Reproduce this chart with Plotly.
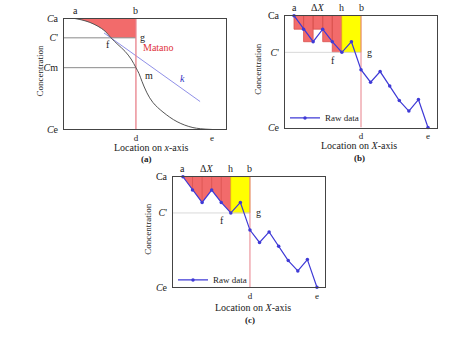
import plotly.graph_objects as go

# ---------------- data ----------------
# Panel (a): continuous concentration profile (normalized: Ca = 1, Ce = 0)
a_pos = [0.68, 1.11, 1.60, 2.10, 2.53, 2.90, 3.33, 3.77, 4.14, 4.44, 4.63, 4.81,
         5.12, 5.49, 6.11, 6.98, 7.96, 9.14]
a_conc = [1.0, 0.987, 0.965, 0.930, 0.887, 0.826, 0.765, 0.704, 0.635, 0.557, 0.504,
          0.435, 0.330, 0.243, 0.157, 0.070, 0.017, 0.0]
a_matano = 4.44
a_cprime = 0.826
a_cm = 0.557
a_f_index = 5          # point f on the curve
a_tan_x = [2.47, 8.40]  # line k
a_tan_y = [0.870, 0.252]
a_xrange = [0, 10]

# Panels (b) and (c): raw data
raw_x = list(range(15))
raw_c = [1.0, 0.879, 0.767, 0.879, 0.767, 0.672, 0.767, 0.517, 0.405, 0.50,
         0.371, 0.241, 0.147, 0.25, 0.0]
h_idx = 5   # f / h
b_idx = 7   # Matano (b / d)

y_ticks_a = [0, a_cm, a_cprime, 1]
y_text_a = ["<i>C</i>e", "<i>C</i>m", "<i>C</i>'", "<i>C</i>a"]

# ---------------- style ----------------
FONT = "Liberation Serif"
RED = "#F26B6B"
RED_EDGE = "#D9534F"
YEL = "#FFFF00"
LINE = "#3F3AD6"
MAT = "#E8808A"
W, H = 474, 339

fig = go.Figure()

# ================= panel (a) =================
fpos = a_pos[:a_f_index + 1]
fconc = a_conc[:a_f_index + 1]
fig.add_trace(go.Scatter(
    x=fpos + [a_matano, a_matano, fpos[0]],
    y=fconc + [a_cprime, 1, 1],
    fill="toself", fillcolor=RED, mode="none", line_shape="linear",
    showlegend=False, xaxis="x", yaxis="y", hoverinfo="skip"))
# C' and Cm guide lines
for lev in (a_cprime, a_cm):
    fig.add_trace(go.Scatter(x=[a_xrange[0], a_matano], y=[lev, lev], mode="lines",
                             line=dict(color="#8a8a8a", width=1), showlegend=False,
                             xaxis="x", yaxis="y", hoverinfo="skip"))
# tangent k
fig.add_trace(go.Scatter(x=a_tan_x, y=a_tan_y, mode="lines",
                         line=dict(color="#9090E8", width=1), showlegend=False,
                         xaxis="x", yaxis="y", hoverinfo="skip"))
# Matano line
fig.add_trace(go.Scatter(x=[a_matano, a_matano], y=[0, 1], mode="lines",
                         line=dict(color=MAT, width=1.3), showlegend=False,
                         xaxis="x", yaxis="y", hoverinfo="skip", cliponaxis=False))
# profile curve
fig.add_trace(go.Scatter(x=a_pos, y=a_conc, mode="lines", line_shape="spline",
                         line=dict(color="#555555", width=1), showlegend=False,
                         xaxis="x", yaxis="y", hoverinfo="skip", cliponaxis=False))


# ================= panels (b) and (c) =================
def raw_panel(xa, ya, stepped, legend_name):
    # red area
    if stepped:
        xs, ys = [], []
        for i in range(h_idx):
            lo = raw_c[i + 1]
            xs += [raw_x[i], raw_x[i + 1], raw_x[i + 1], raw_x[i], raw_x[i], None]
            ys += [lo, lo, 1, 1, lo, None]
        fig.add_trace(go.Scatter(x=xs, y=ys, fill="toself", fillcolor=RED, mode="lines",
                                 line=dict(color=RED_EDGE, width=0.8), showlegend=False,
                                 xaxis=xa, yaxis=ya, hoverinfo="skip"))
    else:
        xs = raw_x[:h_idx + 1] + [raw_x[h_idx], raw_x[0]]
        ys = raw_c[:h_idx + 1] + [1, 1]
        fig.add_trace(go.Scatter(x=xs, y=ys, fill="toself", fillcolor=RED, mode="none",
                                 showlegend=False, xaxis=xa, yaxis=ya, hoverinfo="skip"))
        vx, vy = [], []
        for i in range(1, h_idx + 1):
            vx += [raw_x[i], raw_x[i], None]
            vy += [raw_c[i], 1, None]
        fig.add_trace(go.Scatter(x=vx, y=vy, mode="lines",
                                 line=dict(color=RED_EDGE, width=0.8), showlegend=False,
                                 xaxis=xa, yaxis=ya, hoverinfo="skip"))
    # yellow rectangle h..b, C'..Ca
    cp = raw_c[h_idx]
    fig.add_trace(go.Scatter(
        x=[raw_x[h_idx], raw_x[b_idx], raw_x[b_idx], raw_x[h_idx], raw_x[h_idx]],
        y=[cp, cp, 1, 1, cp], fill="toself", fillcolor=YEL, mode="lines",
        line=dict(color="#E6C200", width=0.6), showlegend=False,
        xaxis=xa, yaxis=ya, hoverinfo="skip"))
    # C' guide line
    fig.add_trace(go.Scatter(x=[-2, raw_x[b_idx]], y=[cp, cp], mode="lines",
                             line=dict(color="#d9d9d9", width=1), showlegend=False,
                             xaxis=xa, yaxis=ya, hoverinfo="skip"))
    # Matano line
    fig.add_trace(go.Scatter(x=[raw_x[b_idx]] * 2, y=[0, 1], mode="lines",
                             line=dict(color=MAT, width=1), showlegend=False,
                             xaxis=xa, yaxis=ya, hoverinfo="skip", cliponaxis=False))
    # raw data
    fig.add_trace(go.Scatter(x=raw_x, y=raw_c, mode="lines+markers", name="Raw data",
                             line=dict(color=LINE, width=1.2),
                             marker=dict(color=LINE, size=3.5), legend=legend_name,
                             xaxis=xa, yaxis=ya, cliponaxis=False, hoverinfo="skip"))


raw_panel("x2", "y2", True, "legend")
raw_panel("x3", "y3", False, "legend2")

# ---------------- axes ----------------
def xax(domain, rng, tv, tt):
    return dict(domain=domain, range=rng, showgrid=False, zeroline=False,
                showline=True, mirror=True, linecolor="#444", linewidth=1,
                tickmode="array", tickvals=tv, ticktext=tt, ticks="",
                tickfont=dict(family=FONT, size=9, color="#222"))


def yax(domain, anchor, tv, tt):
    return dict(domain=domain, range=[0, 1], anchor=anchor, showgrid=False, zeroline=False,
                showline=True, mirror=True, linecolor="#444", linewidth=1,
                tickmode="array", tickvals=tv, ticktext=tt, ticks="outside",
                ticklen=3, tickcolor="rgba(0,0,0,0)",
                tickfont=dict(family=FONT, size=10, color="#222"))


def px(v):
    return v / W


def py(v):
    return 1 - v / H


cp = raw_c[h_idx]
yt_raw = [0, cp, 1]
ytt_raw = ["<i>C</i>e", "<i>C</i>'", "Ca"]

fig.update_layout(
    width=W, height=H, margin=dict(l=0, r=0, t=0, b=0),
    paper_bgcolor="white", plot_bgcolor="white",
    xaxis=dict(**xax([px(64), px(226)], a_xrange, [a_matano, a_pos[-1]], ["d", "e"]), anchor="y"),
    yaxis=yax([py(128), py(13)], "x", y_ticks_a, y_text_a),
    xaxis2=dict(**xax([px(285), px(437)], [-0.94, 14.94], [raw_x[b_idx], raw_x[-1]], ["d", "e"]), anchor="y2"),
    yaxis2=yax([py(126), py(10)], "x2", yt_raw, ytt_raw),
    xaxis3=dict(**xax([px(173), px(325)], [-1.04, 14.84], [raw_x[b_idx], raw_x[-1]], ["d", "e"]), anchor="y3"),
    yaxis3=yax([py(291.5), py(177)], "x3", yt_raw, ytt_raw),
    legend=dict(x=px(285), y=py(116), xanchor="left", yanchor="middle",
                bgcolor="rgba(0,0,0,0)", font=dict(family=FONT, size=9, color="#222"),
                itemwidth=30, tracegroupgap=0),
    legend2=dict(x=px(173), y=py(284), xanchor="left", yanchor="middle",
                 bgcolor="rgba(0,0,0,0)", font=dict(family=FONT, size=9, color="#222"),
                 itemwidth=30, tracegroupgap=0),
)

ann = []


def label(text, x, y, xref, yref, xs=0, ys=0, color="#222", size=10, xanchor="center",
          yanchor="middle", angle=0):
    ann.append(dict(text=text, x=x, y=y, xref=xref, yref=yref, xshift=xs, yshift=ys,
                    showarrow=False, xanchor=xanchor, yanchor=yanchor, textangle=angle,
                    font=dict(family=FONT, size=size, color=color)))


# panel (a) labels
label("a", a_pos[0], 1, "x", "y", ys=1, yanchor="bottom")
label("b", a_matano, 1, "x", "y", ys=1, yanchor="bottom")
label("g", a_matano, a_cprime, "x", "y", xs=2, xanchor="left")
label("f", a_pos[a_f_index], a_cprime, "x", "y", xs=-3, ys=-7)
label("Matano", a_matano, a_cprime, "x", "y", xs=5, ys=-10, xanchor="left", color="#E0323A")
label("m", a_matano, a_cm, "x", "y", xs=13, ys=-8)
label("<i>k</i>", a_tan_x[1], a_tan_y[1], "x", "y", xs=-18, ys=23, color="#3030C0")
label("Concentration", px(40), py(68), "paper", "paper", size=9, angle=-90)
label("Location on <i>x</i>-axis", px(151), py(147), "paper", "paper")
label("<b>(a)</b>", px(146), py(159), "paper", "paper", size=9)

# panels (b), (c) labels
for xa, ya in (("x2", "y2"), ("x3", "y3")):
    label("a", raw_x[0], 1, xa, ya, ys=1, yanchor="bottom")
    label("Δ<i>X</i>", (raw_x[2] + raw_x[3]) / 2, 1, xa, ya, ys=1, yanchor="bottom")
    label("h", raw_x[h_idx], 1, xa, ya, ys=1, yanchor="bottom")
    label("b", raw_x[b_idx], 1, xa, ya, ys=1, yanchor="bottom")
    label("g", raw_x[b_idx], cp, xa, ya, xs=4, xanchor="left")
    label("f", raw_x[h_idx], cp, xa, ya, xs=-9, ys=-8)

label("Concentration", px(258), py(66), "paper", "paper", size=9, angle=-90)
label("Location on <i>X</i>-axis", px(359), py(145), "paper", "paper")
label("<b>(b)</b>", px(359), py(158), "paper", "paper", size=9)
label("Concentration", px(148), py(232), "paper", "paper", size=9, angle=-90)
label("Location on <i>X</i>-axis", px(253), py(313), "paper", "paper")
label("<b>(c)</b>", px(250), py(326), "paper", "paper", size=9)

fig.update_layout(annotations=ann)
fig.write_html("out.html")
